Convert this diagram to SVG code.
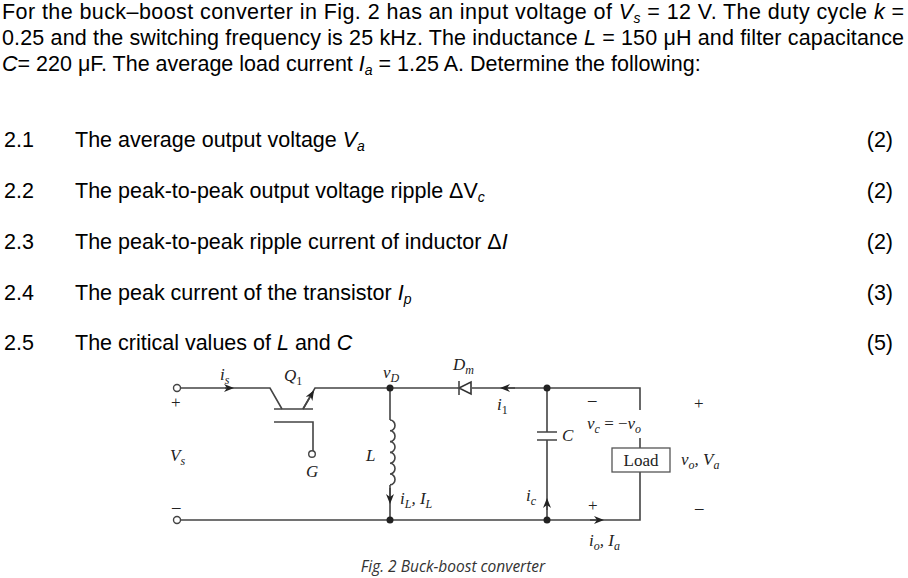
<svg xmlns="http://www.w3.org/2000/svg" width="908" height="578" viewBox="0 0 908 578">
<style>
.t{font-family:"Liberation Sans",Arial,sans-serif;font-size:21.5px;fill:#000}
.c{font-family:"Liberation Serif","Times New Roman",serif;font-size:17px;fill:#222}
.w{stroke:#444;stroke-width:1.6;fill:none}
.dot{fill:#222}
.cap{font-family:"Open Sans",sans-serif;font-style:italic;font-size:15.5px;fill:#333}
</style>
<defs><marker id="a" viewBox="0 0 10 8" refX="8" refY="4" markerWidth="10" markerHeight="8" markerUnits="userSpaceOnUse" orient="auto"><path d="M0,0 L10,4 L0,8 L3,4z" fill="#222"/></marker></defs>
<rect width="908" height="578" fill="#fff"/>
<g id="text">
<text class="t" x="2" y="19" textLength="902" lengthAdjust="spacing">For the buck–boost converter in Fig. 2 has an input voltage of <tspan font-style="italic">V<tspan font-size="14" dy="4">s</tspan></tspan><tspan dy="-4"> = 12 V. The duty cycle </tspan><tspan font-style="italic">k</tspan> =</text>
<text class="t" x="2" y="45" textLength="902" lengthAdjust="spacing">0.25 and the switching frequency is 25 kHz. The inductance <tspan font-style="italic">L</tspan> = 150 μH and filter capacitance</text>
<text class="t" x="2" y="71"><tspan font-style="italic">C</tspan>= 220 μF. The average load current <tspan font-style="italic">I<tspan font-size="14" dy="4">a</tspan></tspan><tspan dy="-4"> = 1.25 A. Determine the following:</tspan></text>
<text class="t" x="4" y="147">2.1</text><text class="t" x="75" y="147">The average output voltage <tspan font-style="italic">V<tspan font-size="14" dy="4">a</tspan></tspan></text><text class="t" x="893" y="147" text-anchor="end">(2)</text>
<text class="t" x="4" y="198">2.2</text><text class="t" x="75" y="198">The peak-to-peak output voltage ripple ΔV<tspan font-style="italic" font-size="14" dy="4">c</tspan></text><text class="t" x="893" y="198" text-anchor="end">(2)</text>
<text class="t" x="4" y="249">2.3</text><text class="t" x="75" y="249">The peak-to-peak ripple current of inductor Δ<tspan font-style="italic">I</tspan></text><text class="t" x="893" y="249" text-anchor="end">(2)</text>
<text class="t" x="4" y="300">2.4</text><text class="t" x="75" y="300">The peak current of the transistor <tspan font-style="italic">I<tspan font-size="14" dy="4">p</tspan></tspan></text><text class="t" x="893" y="300" text-anchor="end">(3)</text>
<text class="t" x="4" y="350">2.5</text><text class="t" x="75" y="350">The critical values of <tspan font-style="italic">L</tspan> and <tspan font-style="italic">C</tspan></text><text class="t" x="893" y="350" text-anchor="end">(5)</text>
</g>
<g id="connectors">
<path class="w" d="M181,388 H270 L282,409 M303,409 L315,388 H458 M472,388 H640 V410 M640,472 V520 H181"/>
<path class="w" d="M225,388 H232" marker-end="url(#a)"/>
<path class="w" d="M390,388 V420 M390,485 V520"/>
<path class="w" d="M390,488 V502" marker-end="url(#a)"/>
<path class="w" d="M515,388 H502" marker-end="url(#a)"/>
<path class="w" d="M547,388 V432 M547,440 V520"/>
<path class="w" d="M547,510 V500" marker-end="url(#a)"/>
<path class="w" d="M590,520 H602" marker-end="url(#a)"/>
</g>
<g id="source"><circle cx="177" cy="388" r="3.5" fill="#fff" stroke="#444" stroke-width="1.4"/><circle cx="177" cy="520" r="3.5" fill="#fff" stroke="#444" stroke-width="1.4"/>
<text class="c" x="171" y="408" font-size="15">+</text><text class="c" x="172" y="512" font-size="15">–</text>
<text class="c" x="170" y="461" font-style="italic">V<tspan font-size="12" dy="4">s</tspan></text>
<text class="c" x="220" y="380" font-style="italic">i<tspan font-size="12" dy="4">s</tspan></text></g>
<g id="Q1"><path class="w" d="M274,409 H313 M274,422 H313 V451" stroke-width="2"/>
<path class="w" d="M303,409 L313,392" marker-end="url(#a)"/>
<circle cx="312" cy="454" r="3.3" fill="#fff" stroke="#444" stroke-width="1.4"/>
<text class="c" x="306" y="477" font-style="italic">G</text>
<text class="c" x="284" y="381" font-style="italic">Q<tspan font-size="12" dy="4" font-style="normal">1</tspan></text></g>
<g id="L"><path class="w" d="M390,420 a5,5.4 0 0 1 0,10.8 a5,5.4 0 0 1 0,10.8 a5,5.4 0 0 1 0,10.8 a5,5.4 0 0 1 0,10.8 a5,5.4 0 0 1 0,10.8 a5,5.4 0 0 1 0,10.8"/>
<circle class="dot" cx="390" cy="388" r="3.5"/><circle class="dot" cx="390" cy="520" r="3.5"/>
<text class="c" x="366" y="461" font-style="italic">L</text>
<text class="c" x="383" y="378" font-style="italic">v<tspan font-size="12" dy="4">D</tspan></text>
<text class="c" x="400" y="504" font-style="italic">i<tspan font-size="12" dy="4">L</tspan><tspan dy="-4">, I</tspan><tspan font-size="12" dy="4">L</tspan></text></g>
<g id="Dm"><path d="M471,382 V394 L459,388z" fill="#fff" stroke="#333" stroke-width="1.6"/><path class="w" d="M459,381 V395"/>
<text class="c" x="453" y="370" font-style="italic">D<tspan font-size="12" dy="4">m</tspan></text>
<text class="c" x="497" y="410" font-style="italic">i<tspan font-size="12" dy="4" font-style="normal">1</tspan></text></g>
<g id="C"><path class="w" d="M537,432 H557 M537,440 H557" stroke-width="2"/>
<circle class="dot" cx="547" cy="388" r="3.5"/><circle class="dot" cx="547" cy="520" r="3.5"/>
<text class="c" x="562" y="441" font-style="italic">C</text>
<text class="c" x="526" y="501" font-style="italic">i<tspan font-size="12" dy="4">c</tspan></text>
<text class="c" x="588" y="405">–</text><text class="c" x="588" y="511">+</text>
<text class="c" x="587" y="429" font-style="italic">v<tspan font-size="12" dy="4">c</tspan><tspan dy="-4" font-style="normal"> = −</tspan>v<tspan font-size="12" dy="4">o</tspan></text>
<text class="c" x="589" y="546" font-style="italic">i<tspan font-size="12" dy="4">o</tspan><tspan dy="-4">, I</tspan><tspan font-size="12" dy="4">a</tspan></text></g>
<g id="Load"><path class="w" d="M640,438 V448"/><rect x="612" y="448" width="58" height="24" fill="#fff" stroke="#555" stroke-width="1.3"/>
<text class="c" x="641" y="466" text-anchor="middle" font-size="16">Load</text>
<text class="c" x="681" y="465" font-style="italic">v<tspan font-size="12" dy="4">o</tspan><tspan dy="-4">, V</tspan><tspan font-size="12" dy="4">a</tspan></text>
<text class="c" x="694" y="409">+</text><text class="c" x="695" y="513">–</text></g>
<text class="cap" x="453" y="572" text-anchor="middle">Fig. 2 Buck-boost converter</text>
</svg>
